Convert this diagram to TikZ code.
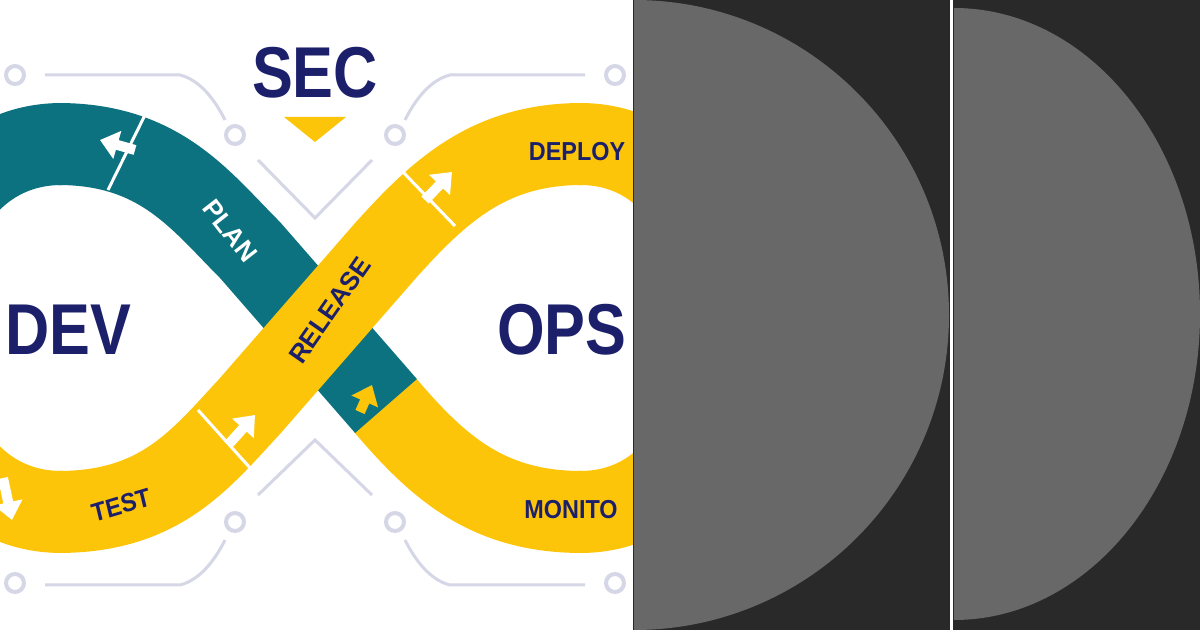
\documentclass[tikz,border=0pt]{standalone}
\usepackage{fontspec}
\setmainfont{Liberation Sans}
\usetikzlibrary{arrows.meta}
\definecolor{teal1}{HTML}{0D7280}
\definecolor{gold}{HTML}{FDC50A}
\definecolor{navy}{HTML}{1C1F6A}
\definecolor{guide}{HTML}{D6D7E6}
\definecolor{dark}{HTML}{292929}
\definecolor{disc}{HTML}{686868}
\begin{document}
\begin{tikzpicture}[x=0.5pt,y=-0.5pt,
  band/.style={line width=41pt,line cap=butt},
  sep/.style={white,line width=1.5pt},
  wa/.style={white,line width=5pt,-{Triangle[length=9pt,width=14pt]}},
  big/.style={font=\bfseries\fontsize{36}{36}\selectfont,text=navy},
  mid/.style={font=\bfseries\fontsize{13}{13}\selectfont,text=navy},
  guideline/.style={guide,line width=1.5pt},
  dot/.style={circle,draw=guide,line width=2pt,fill=white,minimum size=9pt,inner sep=0pt}]
\useasboundingbox (0,0) rectangle (1200,630);
\fill[white] (0,0) rectangle (1200,630);
% guide lines
\draw[guideline] (45,75) -- (180,75) .. controls (200,80) and (215,100) .. (225,120);
\draw[guideline] (585,75) -- (450,75) .. controls (430,80) and (415,100) .. (405,120);
\draw[guideline] (45,585) -- (180,585) .. controls (200,580) and (215,560) .. (225,540);
\draw[guideline] (585,585) -- (450,585) .. controls (430,580) and (415,560) .. (405,540);
\draw[guideline] (258,160) -- (315,218) -- (372,160);
\draw[guideline] (258,495) -- (315,440) -- (372,495);
\foreach \n/\p in {d1/{(15,75)},d2/{(235,135)},d3/{(395,135)},d4/{(615,75)},d5/{(235,522)},d6/{(395,522)},d7/{(15,583)},d8/{(615,583)}}
  \node[dot] (\n) at \p {};
% band
\draw[band,teal1] (62,144) .. controls (-35,144) and (-82.5,236) .. (-82.5,330);
\draw[band,gold] (-82.5,326) .. controls (-82.5,420) and (-35,512) .. (62,512);
\draw[band,gold] (580,144) .. controls (770,144) and (770,512) .. (580,512);
\draw[band,gold] (385,405) .. controls (440,470) and (490,512) .. (582,512);
\draw[band,teal1] (58,144) .. controls (160,144) and (200,200) .. (250,250) -- (318,328) -- (386,406);
\draw[band,gold] (58,512) .. controls (160,512) and (200,460) .. (250,406) -- (318,328) -- (386,250) .. controls (440,190) and (490,144) .. (582,144);
% separators
\draw[sep] (108,190) -- (145,115);
\draw[sep] (402,171) -- (455,226);
\draw[sep] (198,410) -- (251,469);
% arrows
\draw[wa] (135,150) -- (100,140);
\draw[wa] (425,200) -- (452,172);
\draw[wa] (228,445) -- (255,415);
\draw[gold,line width=5pt,-{Triangle[length=9pt,width=14pt]}] (360,412) -- (372,385);
\draw[wa] (3,478) -- (12,520);
% triangle
\fill[gold] (284,117) -- (346,117) -- (315,142) -- cycle;
% labels
\node[big,xscale=0.85] (sec) at (315,73) {SEC};
\node[big,xscale=0.85] (dev) at (68,330) {DEV};
\node[big,xscale=0.85] (ops) at (562,330) {OPS};
\node[mid,xscale=0.9] (deploy) at (577,152) {DEPLOY};
\node[mid,xscale=0.9] (monito) at (571,510) {MONITO};
\node[mid,xscale=0.9,rotate=15] (test) at (121,505) {TEST};
\node[mid,text=white,rotate=-52] (plan) at (230,231) {PLAN};
\node[mid,rotate=55] (release) at (330,310) {RELEASE};
% right panel
\fill[dark] (633,0) rectangle (1200,630);
\fill[disc] (634,0) arc[start angle=-90,end angle=90,x radius=315,y radius=315] -- cycle;
\fill[disc] (954,8) arc[start angle=-90,end angle=90,x radius=246,y radius=306] -- cycle;
\fill[white] (949.5,0) rectangle (953,630);
\end{tikzpicture}
\end{document}
